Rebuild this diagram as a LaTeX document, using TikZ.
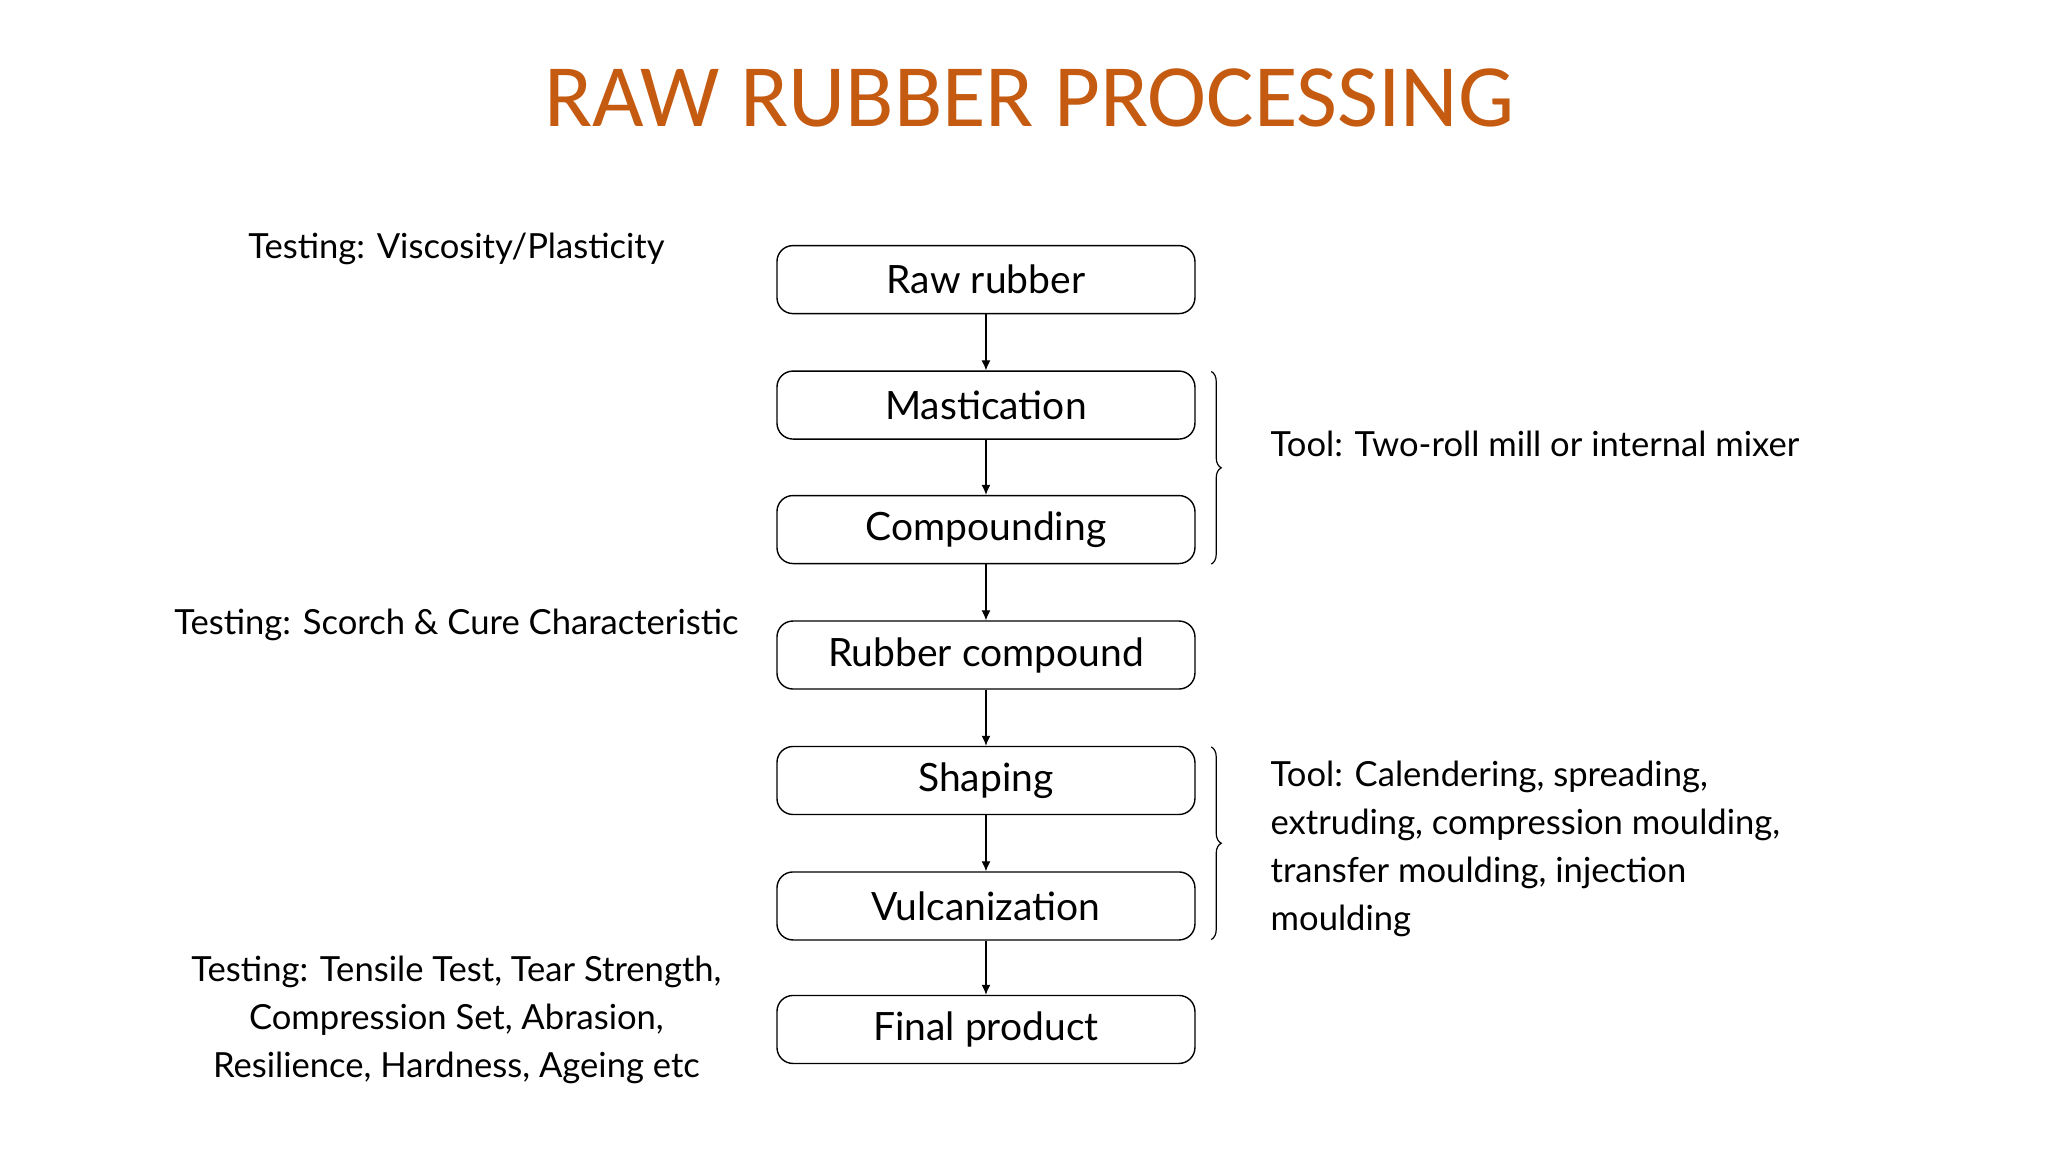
\documentclass[tikz,border=0pt]{standalone}
\usepackage{fontspec}
\setmainfont{Lato}
\newfontfamily\titlefont{Carlito}
\usetikzlibrary{arrows.meta,decorations.pathreplacing}
\definecolor{ttl}{HTML}{C55A11}
\begin{document}
\begin{tikzpicture}[x=0.494pt,y=-0.494pt,
  box/.style={draw,rounded corners=8pt,minimum width=209pt,minimum height=34pt,inner sep=0pt,font=\fontsize{19.5}{21}\selectfont,line width=0.7pt},
  arr/.style={-{Latex[length=5pt,width=4.5pt]},line width=0.6pt},
  lbl/.style={font=\fontsize{17.3}{24}\selectfont,align=center},
  brace/.style={decorate,decoration={brace,amplitude=5pt},line width=0.6pt}]
\useasboundingbox (0,0) rectangle (2073,1166);
\node[font=\titlefont\fontsize{44.5}{46}\selectfont,text=ttl] (title) at (1042,99) {RAW RUBBER PROCESSING};
\node[box] (n1) at (998,283) {Raw rubber};
\node[box] (n2) at (998,410) {Mastication};
\node[box] (n3) at (998,536) {Compounding};
\node[box] (n4) at (998,663) {Rubber compound};
\node[box] (n5) at (998,790) {Shaping};
\node[box] (n6) at (998,917) {Vulcanization};
\node[box] (n7) at (998,1042) {Final product};
\foreach \a/\b in {n1/n2,n2/n3,n3/n4,n4/n5,n5/n6,n6/n7} \draw[arr] (\a) -- (\b);
\draw[brace] (1226,376) -- (1226,571);
\draw[brace] (1226,756) -- (1226,951);
\node[lbl,anchor=west] (t1) at (1279,449) {Tool: Two-roll mill or internal mixer};
\node[lbl,anchor=west,align=left] (t2) at (1279,859) {Tool: Calendering, spreading,\\extruding, compression moulding,\\transfer moulding, injection\\moulding};
\node[lbl] (l1) at (462,252) {Testing: Viscosity/Plasticity};
\node[lbl] (l2) at (462,633) {Testing: Scorch \& Cure Characteristic};
\node[lbl] (l3) at (462,1032) {Testing: Tensile Test, Tear Strength,\\Compression Set, Abrasion,\\Resilience, Hardness, Ageing etc};
\end{tikzpicture}
\end{document}
